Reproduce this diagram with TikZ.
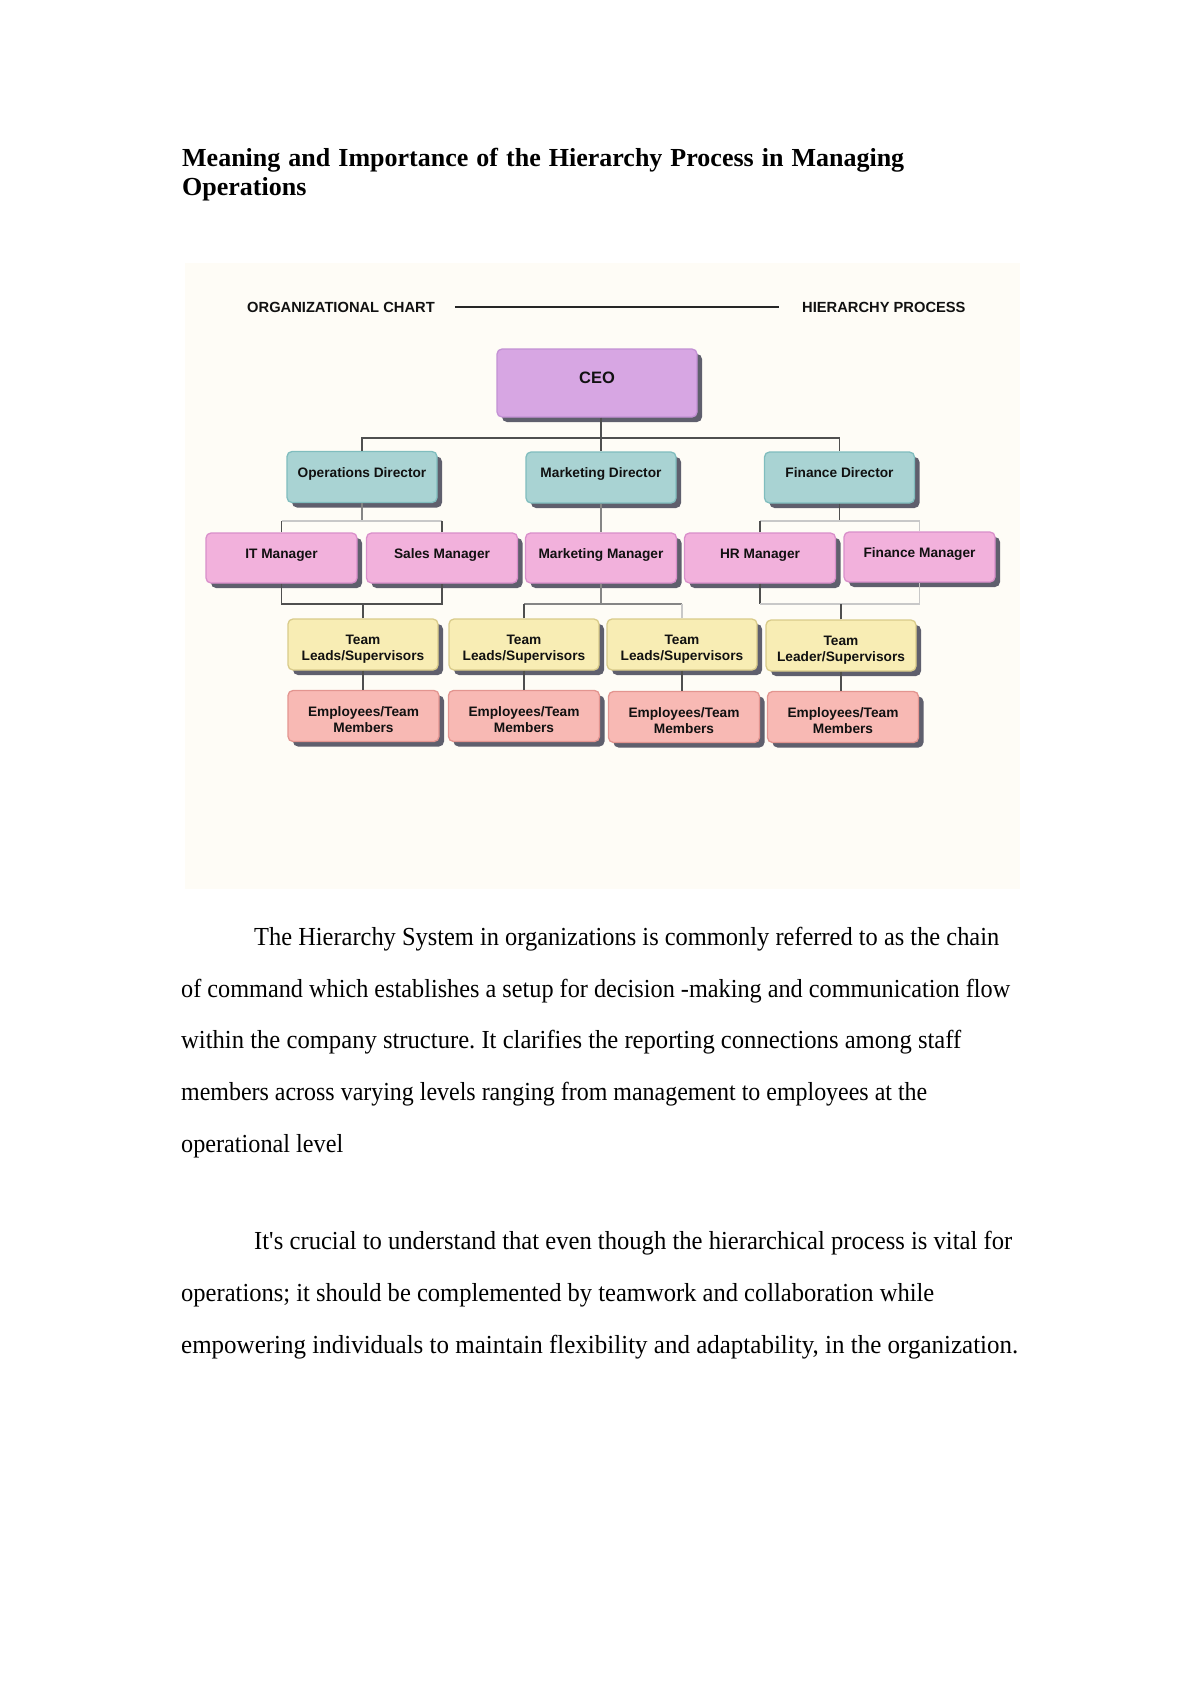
\documentclass[tikz,border=0pt]{standalone}
\usepackage{fontspec}
\usepackage{graphicx}
\setmainfont{Liberation Serif}
\newfontfamily\chartfont{Liberation Sans}
\newfontfamily\bodyfont[FakeStretch=0.95]{Liberation Serif}
\usetikzlibrary{shadows}
\frenchspacing

\definecolor{chartbg}{HTML}{FEFCF6}
\definecolor{ceofill}{HTML}{D7A6E3}
\definecolor{ceodraw}{HTML}{C391D4}
\definecolor{dirfill}{HTML}{A9D3D3}
\definecolor{dirdraw}{HTML}{80BDBE}
\definecolor{mgrfill}{HTML}{F2B1DC}
\definecolor{mgrdraw}{HTML}{D98FCA}
\definecolor{teamfill}{HTML}{F8EDB4}
\definecolor{teamdraw}{HTML}{D9CB8A}
\definecolor{empfill}{HTML}{F8B9B4}
\definecolor{empdraw}{HTML}{E39590}
\definecolor{shadowc}{HTML}{5F5F6D}
\definecolor{dkline}{HTML}{4F4F4F}
\definecolor{mdline}{HTML}{858585}
\definecolor{ltline}{HTML}{C8C8C8}
\definecolor{chtext}{HTML}{111111}

\newcommand\onebox[5]{%
  \node[#2] (#1) at (#3,#4) {};
  \node[lbl] (#1-t) at (#1.center) {#5};}
\newcommand\twobox[6]{%
  \node[#2] (#1) at (#3,#4) {};
  \node[lbl] (#1-a) at (#1.center) {#5};
  \node[lbl] (#1-b) at ([yshift=-16pt]#1.center) {#6};}
\newcommand\fitline[2]{\resizebox{#1}{\height}{#2}}

\begin{document}
\begin{tikzpicture}[x=1pt,y=-1pt,
  orgbox/.style={draw, line width=1.3pt, rounded corners=5pt, inner sep=0pt,
    drop shadow={shadow xshift=5pt, shadow yshift=-5pt, fill=shadowc, opacity=1}},
  ceobox/.style={orgbox, fill=ceofill, draw=ceodraw, minimum width=200pt, minimum height=68pt},
  dirbox/.style={orgbox, fill=dirfill, draw=dirdraw, minimum width=150pt, minimum height=51pt},
  mgrbox/.style={orgbox, fill=mgrfill, draw=mgrdraw, minimum width=151pt, minimum height=50pt},
  teambox/.style={orgbox, fill=teamfill, draw=teamdraw, minimum width=150pt, minimum height=51pt},
  empbox/.style={orgbox, fill=empfill, draw=empdraw, minimum width=151pt, minimum height=51pt},
  lbl/.style={anchor=base, inner sep=0pt, text=chtext,
    font=\chartfont\bfseries\fontsize{13.7pt}{16pt}\selectfont},
  hdr/.style={anchor=base west, inner sep=0pt, text=chtext,
    font=\chartfont\bfseries\fontsize{14.7pt}{17pt}\selectfont},
  ttl/.style={anchor=base west, inner sep=0pt,
    font=\rmfamily\bfseries\fontsize{26pt}{30pt}\selectfont},
  body/.style={anchor=base west, inner sep=0pt,
    font=\bodyfont\fontsize{26pt}{30pt}\selectfont},
  dk/.style={draw=dkline, line width=1.3pt},
  md/.style={draw=mdline, line width=1.3pt},
  lt/.style={draw=ltline, line width=1.3pt}]

\useasboundingbox (0,0) rectangle (1200,1694);
\fill[white] (0,0) rectangle (1200,1694);

% title
\node[ttl] (title1) at (182,166) {\makebox[722pt][s]{Meaning and Importance of the Hierarchy Process in Managing}};
\node[ttl] (title2) at (182,195) {Operations};

% chart background
\fill[chartbg] (185,263) rectangle (1020,889);

% header
\node[hdr] (org) at (247,312) {ORGANIZATIONAL CHART};
\node[hdr] (hier) at (802,312) {HIERARCHY PROCESS};
\draw[draw=black!85, line width=1.4pt] ([xshift=20pt]org.east) -- ([xshift=-23pt]hier.west);

% boxes
\node[ceobox] (ceo) at (597,383) {};
\node[lbl, font=\chartfont\bfseries\fontsize{16.5pt}{19pt}\selectfont] (ceo-t) at (ceo.center) {CEO};

\onebox{opsd}{dirbox}{362}{477}{Operations Director}
\onebox{mktd}{dirbox}{601}{477.5}{Marketing Director}
\onebox{find}{dirbox}{839.5}{477.5}{Finance Director}

\onebox{it}{mgrbox}{281.5}{558}{IT Manager}
\onebox{sales}{mgrbox}{442}{558}{Sales Manager}
\onebox{mktm}{mgrbox}{601}{558}{Marketing Manager}
\onebox{hr}{mgrbox}{760}{558}{HR Manager}
\onebox{finm}{mgrbox}{919.5}{557}{Finance Manager}

\twobox{t1}{teambox}{363}{644.5}{Team}{Leads/Supervisors}
\twobox{t2}{teambox}{524}{644.5}{Team}{Leads/Supervisors}
\twobox{t3}{teambox}{682}{644.5}{Team}{Leads/Supervisors}
\twobox{t4}{teambox}{841}{645.5}{Team}{Leader/Supervisors}

\twobox{e1}{empbox}{363.5}{716}{Employees/Team}{Members}
\twobox{e2}{empbox}{524}{716}{Employees/Team}{Members}
\twobox{e3}{empbox}{684}{717}{Employees/Team}{Members}
\twobox{e4}{empbox}{843}{717}{Employees/Team}{Members}

% connector levels
\coordinate (b1) at (0,438);
\coordinate (b2) at (0,521);
\coordinate (b3) at (0,604);

% CEO to directors
\draw[dk] (ceo.south -| mktd.north) -- (mktd.north);
\draw[dk] (opsd.north) |- (b1 -| find.north) -- (find.north);

% directors to managers
\draw[md] (opsd.south) -- (opsd.south |- b2);
\draw[lt] (b2 -| it.north) -- (b2 -| sales.north);
\draw[dk] (it.north) -- (b2 -| it.north);
\draw[dk] (sales.north) -- (b2 -| sales.north);
\draw[md] (mktd.south) -- (mktm.north);
\draw[dk] (find.south) -- (find.south |- b2);
\draw[lt] (b2 -| hr.north) -- (b2 -| finm.north);
\draw[dk] (hr.north) -- (b2 -| hr.north);
\draw[lt] (finm.north) -- (b2 -| finm.north);

% managers to team leads
\draw[dk] (it.south) |- (b3 -| sales.south) -- (sales.south);
\draw[dk] (t1.north) -- (t1.north |- b3);
\draw[md] (mktm.south) -- (mktm.south |- b3);
\draw[md] (b3 -| t2.north) -- (b3 -| t3.north);
\draw[dk] (t2.north) -- (t2.north |- b3);
\draw[lt] (t3.north) -- (t3.north |- b3);
\draw[dk] (hr.south) -- (hr.south |- b3);
\draw[lt] (b3 -| hr.south) -- (b3 -| finm.south) -- (finm.south);
\draw[dk] (t4.north) -- (t4.north |- b3);

% team leads to employees
\draw[dk] (t1.south) -- (t1.south |- e1.north);
\draw[dk] (t2.south) -- (t2.south |- e2.north);
\draw[dk] (t3.south) -- (t3.south |- e3.north);
\draw[dk] (t4.south) -- (t4.south |- e4.north);

% body text
\node[body] (p1l1) at (254,945) {\fitline{745pt}{The Hierarchy System in organizations is commonly referred to as the chain}};
\node[body] (p1l2) at (181,997) {\fitline{829pt}{of command which establishes a setup for decision -making and communication flow}};
\node[body] (p1l3) at (181,1048) {\fitline{780pt}{within the company structure. It clarifies the reporting connections among staff}};
\node[body] (p1l4) at (181,1100) {\fitline{746pt}{members across varying levels ranging from management to employees at the}};
\node[body] (p1l5) at (181,1152) {\fitline{162pt}{operational level}};

\node[body] (p2l1) at (254,1249) {\fitline{758pt}{It\textquotesingle s crucial to understand that even though the hierarchical process is vital for}};
\node[body] (p2l2) at (181,1301) {\fitline{753pt}{operations; it should be complemented by teamwork and collaboration while}};
\node[body] (p2l3) at (181,1353) {\fitline{837pt}{empowering individuals to maintain flexibility and adaptability, in the organization.}};
\end{tikzpicture}
\end{document}
